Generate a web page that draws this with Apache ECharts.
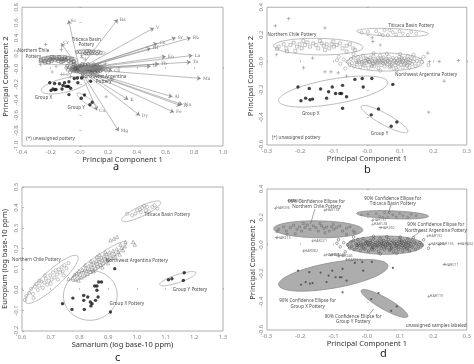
<!DOCTYPE html>
<html><head><meta charset="utf-8">
<script src="https://cdn.jsdelivr.net/npm/echarts@6/dist/echarts.min.js"></script>
<style>html,body{margin:0;padding:0;background:#fff}#c{width:474px;height:364px}</style>
</head><body><div id="c"></div>
<script>
// ---------- PCA scores (panels a, b, d) ----------
const titicacaPC = [[-0.016,0.217],[0.003,0.221],[0.028,0.226],[0.038,0.205],[0.053,0.233],[0.063,0.198],[0.078,0.217],[0.088,0.202],[0.098,0.226],[0.108,0.210],[0.123,0.198],[0.133,0.221],[0.148,0.210],[0.048,0.198],[0.068,0.233]];
const northernChilePC = [[-0.270,0.098],[-0.265,0.114],[-0.250,0.131],[-0.242,0.102],[-0.230,0.126],[-0.220,0.143],[-0.210,0.114],[-0.202,0.131],[-0.196,0.102],[-0.186,0.126],[-0.179,0.145],[-0.171,0.114],[-0.161,0.138],[-0.153,0.126],[-0.146,0.102],[-0.136,0.138],[-0.129,0.121],[-0.121,0.131],[-0.113,0.102],[-0.106,0.131],[-0.099,0.114],[-0.091,0.126],[-0.081,0.138],[-0.073,0.102],[-0.061,0.121],[-0.051,0.131],[-0.041,0.102],[-0.036,0.090],[-0.191,0.155],[-0.141,0.155],[-0.101,0.150],[-0.126,0.090],[-0.215,0.083],[-0.240,0.079],[-0.061,0.079]];
const nwArgentinaPC = [[-0.058,0.005],[-0.052,-0.020],[-0.048,0.025],[-0.045,-0.005],[-0.040,0.035],[-0.038,-0.030],[-0.033,0.012],[-0.030,-0.015],[-0.027,0.040],[-0.024,0.000],[-0.020,-0.035],[-0.018,0.022],[-0.015,-0.010],[-0.012,0.048],[-0.010,0.008],[-0.006,-0.025],[-0.003,0.030],[0.000,-0.002],[0.003,0.018],[0.005,-0.040],[0.008,0.005],[0.010,0.035],[0.013,-0.018],[0.015,0.012],[0.018,-0.005],[0.020,0.045],[0.022,-0.030],[0.025,0.020],[0.028,0.000],[0.030,-0.012],[0.033,0.030],[0.035,-0.042],[0.038,0.008],[0.040,0.050],[0.043,-0.020],[0.045,0.015],[0.048,-0.005],[0.050,0.035],[0.053,-0.030],[0.055,0.002],[0.058,0.025],[0.060,-0.015],[0.063,0.010],[0.065,0.042],[0.068,-0.035],[0.070,0.000],[0.073,0.020],[0.075,-0.010],[0.078,0.032],[0.080,-0.045],[0.083,0.008],[0.085,-0.022],[0.088,0.028],[0.090,-0.002],[0.093,0.015],[0.095,-0.030],[0.098,0.040],[0.100,0.005],[0.103,-0.015],[0.105,0.022],[0.108,-0.038],[0.110,0.010],[0.113,0.030],[0.115,-0.008],[0.118,0.018],[0.120,-0.025],[0.123,0.045],[0.125,0.000],[0.128,-0.040],[0.130,0.015],[0.133,0.030],[0.136,-0.012],[0.140,0.005],[0.143,0.025],[0.146,-0.028],[0.150,0.010],[0.155,-0.010],[0.160,0.020],[0.165,0.002],[-0.070,0.020],[-0.080,-0.010],[-0.090,0.015],[-0.085,0.040],[-0.065,-0.045],[0.020,0.065],[0.060,0.062],[0.100,0.060],[0.140,0.055],[0.040,-0.060],[0.090,-0.055],[-0.040,0.060],[0.170,0.040],[0.185,-0.020],[-0.025,0.010],[-0.015,0.002],[-0.005,0.012],[0.005,0.002],[0.012,0.022],[0.018,-0.012],[0.024,0.008],[0.032,-0.004],[0.036,0.020],[0.042,0.000],[0.050,0.010],[0.056,-0.008],[0.062,0.018],[0.068,0.005],[0.074,-0.020],[0.082,0.015],[0.087,0.000],[0.094,-0.010],[0.099,0.020],[0.106,0.000],[0.112,-0.015],[0.117,0.008],[0.124,0.020],[0.129,-0.005],[-0.030,0.000],[-0.010,-0.020],[0.000,0.025],[0.015,-0.028],[0.045,0.028],[0.070,-0.028],[0.104,0.032],[0.122,-0.020]];
const groupXPC = [[-0.207,-0.179],[-0.173,-0.190],[-0.139,-0.193],[-0.104,-0.179],[-0.073,-0.167],[-0.198,-0.279],[-0.184,-0.260],[-0.171,-0.271],[-0.163,-0.267],[-0.121,-0.260],[-0.115,-0.214],[-0.094,-0.226],[-0.081,-0.226],[-0.076,-0.226],[-0.061,-0.250],[-0.011,-0.179],[-0.073,-0.333],[-0.036,-0.124],[-0.014,-0.117],[0.015,-0.117],[0.078,-0.160]];
const groupYPC = [[0.013,-0.381],[0.035,-0.338],[0.073,-0.464],[0.090,-0.433]];
const unassignedPC = [[-0.235,0.317],[-0.275,0.264],[-0.126,0.250],[-0.272,0.055],[-0.190,-0.040],[-0.163,0.031],[-0.126,-0.069],[-0.108,-0.069],[0.018,0.150],[0.016,0.178],[0.040,0.126],[0.186,-0.362],[0.232,-0.136],[0.188,0.007],[0.217,0.007],[0.275,0.012],[0.183,0.067],[-0.061,-0.100],[-0.086,-0.076]];
const unassignedIds = ["HAR313","HAR096","HAR178","HAR115","HAR082","HAR221","HAR317","HAR240","HAR128","HAR131","HAR260","HAR119","HAR071","HAR302","HAR156","HAR034","HAR192","HAR311","HAR246"];

// 90% confidence ellipses in PC space: [centerX, centerY, axis1X, axis1Y, axis2X, axis2Y]
const ellipseNames = ["Northern Chile","Titicaca Basin","Northwest Argentina","Group X","Group Y"];
const ellipsesPC = [[-0.146,0.114,0.134,-0.005,0,0.060],[0.077,0.217,0.108,-0.010,0,0.028],[0.055,0.002,0.115,0,0,0.065],[-0.101,-0.212,0.164,0.069,0.007,-0.089],[0.053,-0.412,0.0697,-0.093,-0.0083,-0.0355]];

// element loadings (biplot arrows, panel a)
const loadingNames = ["Sc","Cr","Ba","V","Sr","Rb","Cs","Hf","Eu","La","Ta","Th","U","Mn","Al","Na","Ti","Fe","K","Dy","Mg","Ca","Co"];
const loadingXY = [[-0.076,0.630],[-0.127,0.332],[0.267,0.643],[0.519,0.532],[0.671,0.404],[0.776,0.404],[0.543,0.332],[0.496,0.268],[0.601,0.162],[0.788,0.174],[0.776,0.089],[0.554,0.064],[0.496,0.034],[0.846,-0.123],[0.648,-0.362],[0.718,-0.464],[0.706,-0.477],[0.659,-0.562],[0.340,-0.400],[0.421,-0.604],[0.274,-0.809],[0.123,-0.540],[0.228,-0.021]];

// ---------- Sm vs Eu (panel c) ----------
const titicacaSmEu = [[0.966,0.370],[0.984,0.362],[0.995,0.370],[1.001,0.387],[1.011,0.391],[1.019,0.398],[1.025,0.408],[1.036,0.403],[1.042,0.382],[1.054,0.403],[1.062,0.411],[1.014,0.378],[1.031,0.387],[1.071,0.395]];
const northernChileSmEu = [[0.615,-0.030],[0.625,-0.015],[0.632,0.005],[0.638,-0.020],[0.645,0.015],[0.650,0.030],[0.655,0.000],[0.660,0.020],[0.667,0.040],[0.672,0.010],[0.678,0.035],[0.683,0.055],[0.688,0.025],[0.693,0.045],[0.698,0.070],[0.703,0.050],[0.708,0.085],[0.713,0.060],[0.718,0.095],[0.722,0.075],[0.728,0.100],[0.733,0.085],[0.738,0.110],[0.742,0.090],[0.748,0.120],[0.755,0.105],[0.762,0.130],[0.680,0.070],[0.700,0.030],[0.660,0.045],[0.640,-0.040],[0.725,0.050],[0.610,-0.050],[0.745,0.070]];
const nwArgentinaSmEu = [[0.776,0.058],[0.782,0.072],[0.786,0.050],[0.790,0.080],[0.795,0.065],[0.799,0.092],[0.803,0.075],[0.807,0.060],[0.810,0.098],[0.814,0.085],[0.818,0.070],[0.821,0.105],[0.825,0.092],[0.828,0.078],[0.832,0.115],[0.835,0.100],[0.838,0.088],[0.841,0.125],[0.844,0.110],[0.847,0.095],[0.850,0.135],[0.853,0.120],[0.856,0.105],[0.859,0.142],[0.862,0.128],[0.865,0.115],[0.868,0.150],[0.871,0.137],[0.874,0.122],[0.877,0.158],[0.880,0.145],[0.883,0.130],[0.886,0.166],[0.889,0.152],[0.892,0.140],[0.895,0.175],[0.898,0.160],[0.901,0.148],[0.905,0.182],[0.909,0.168],[0.913,0.155],[0.917,0.190],[0.921,0.176],[0.925,0.163],[0.930,0.198],[0.935,0.185],[0.940,0.172],[0.946,0.205],[0.952,0.192],[0.958,0.212],[0.840,0.140],[0.860,0.160],[0.880,0.110],[0.900,0.130],[0.820,0.120],[0.850,0.090],[0.870,0.170],[0.890,0.185],[0.908,0.241],[0.920,0.249],[0.931,0.257],[0.943,0.220],[0.960,0.233],[0.987,0.233],[0.993,0.220],[0.762,0.054],[0.797,0.046]];
const groupXSmEu = [[0.741,-0.067],[0.774,-0.095],[0.777,-0.040],[0.815,-0.027],[0.815,-0.051],[0.817,-0.095],[0.829,-0.035],[0.838,-0.059],[0.840,-0.078],[0.844,-0.067],[0.853,0.019],[0.861,0.019],[0.861,-0.002],[0.856,-0.051],[0.865,-0.035],[0.867,0.038],[0.877,0.038],[0.908,-0.108],[0.923,0.103]];
const groupYSmEu = [[1.110,0.049],[1.122,0.054],[1.165,0.083],[1.162,0.046]];
const ellipsesSmEu = [[0.704,0.051,0.0898,0.1134,0.0196,-0.030],[1.015,0.382,0.0677,0.0454,0.0076,-0.0219],[0.868,0.139,0.0957,0.094,0.0114,-0.0225],[0.838,-0.027,0.093,0.015,-0.010,0.120],[1.1425,0.0544,0.063,0.029,0.0044,-0.0185]];

// ---------- annotations [x, y, text] ----------
const notesA = [[0.048,0.349,"Titicaca Basin\nPottery"],[-0.321,0.196,"Northern Chile\nPottery"],[0.169,-0.136,"Northwest Argentina\nPottery"],[-0.251,-0.370,"Group X"],[-0.022,-0.498,"Group Y"]];
const notesB = [[0.133,0.264,"Titicaca Basin Pottery"],[-0.225,0.198,"Northern Chile Pottery"],[0.178,-0.093,"Northwest Argentina Pottery"],[-0.169,-0.374,"Group X"],[0.038,-0.517,"Group Y"]];
const notesC = [[1.105,0.366,"Titicaca Basin Pottery"],[0.650,0.147,"Northern Chile Pottery"],[1.000,0.140,"Northwest Argentina Pottery"],[0.965,-0.067,"Group X Pottery"],[1.185,0.003,"Group Y Pottery"]];
const notesD = [[-0.151,0.291,"90% Confidence Ellipse for\nNorthern Chile Pottery"],[0.078,0.315,"90% Confidence Ellipse for\nTiticaca Basin Pottery"],[0.207,0.126,"90% Confidence Ellipse for\nNorthwest Argentina Pottery"],[-0.178,-0.413,"90% Confidence Ellipse for\nGroup X Pottery"],[-0.041,-0.524,"90% Confidence Ellipse for\nGroup Y Pottery"],[0.208,-0.572,"unassigned samples labeled"]];
const leadersD = [[[-0.156,0.258],[-0.169,0.154]],[[0.073,0.290],[0.063,0.222]],[[0.163,0.105],[0.138,0.060]],[[0.005,-0.498],[0.020,-0.452]]];
const legendNote = "(+) unassigned pottery";
const panelLetters = ["a","b","c","d"];

const FONT = "Noto Sans";
const PLUS = 'path://M4,0H6V4H10V6H6V10H4V6H0V4H4Z';
const fmtPC = v => (Math.abs(v) < 1e-9 ? "-0.0" : v.toFixed(1));
const fmt1 = v => (Math.abs(v) < 1e-9 ? "0.0" : v.toFixed(1));

const grids = [
  {left:22, top:5, width:201, height:141},
  {left:267, top:5, width:202, height:140},
  {left:21, top:187, width:202, height:144},
  {left:267, top:189, width:202, height:141}
].map(g => Object.assign(g, {show:true, borderColor:'#9a9a9a', borderWidth:0.8, backgroundColor:'#fff'}));

function xAx(gi, min, max, interval, name, fmt, gap) {
  return {type:'value', gridIndex:gi, min, max, interval, name, nameLocation:'middle', nameGap:gap,
    nameTextStyle:{fontSize:7.5, color:'#333', fontFamily:FONT},
    axisLine:{show:false}, axisTick:{show:true, inside:true, length:2, lineStyle:{color:'#999', width:0.6}},
    axisLabel:{fontSize:6, color:'#888', margin:3, formatter:fmt, fontFamily:FONT}, splitLine:{show:false}};
}
function yAx(gi, min, max, interval, name, fmt, gap) {
  return {type:'value', gridIndex:gi, min, max, interval, name, nameLocation:'middle', nameGap:gap,
    nameTextStyle:{fontSize:7.5, color:'#333', fontFamily:FONT},
    axisLine:{show:false}, axisTick:{show:true, inside:true, length:2, lineStyle:{color:'#999', width:0.6}},
    axisLabel:{fontSize:6, color:'#888', margin:3, rotate:90, formatter:fmt, fontFamily:FONT}, splitLine:{show:false}};
}

function ellipseSeries(gi, list, fill, stroke, z) {
  return {type:'custom', xAxisIndex:gi, yAxisIndex:gi, silent:true, z:z, clip:true,
    data:list, encode:{x:0, y:1},
    renderItem:(params, api) => {
      const cx=api.value(0), cy=api.value(1), ax=api.value(2), ay=api.value(3), bx=api.value(4), by=api.value(5);
      const pts=[];
      for (let i=0;i<90;i++){ const t=i/90*2*Math.PI;
        pts.push(api.coord([cx+Math.cos(t)*ax+Math.sin(t)*bx, cy+Math.cos(t)*ay+Math.sin(t)*by])); }
      return {type:'polygon', shape:{points:pts}, style:{fill:fill, stroke:stroke, lineWidth:0.8}};
    }};
}
function pts(gi, data, symbol, size, color, filled, z) {
  return {type:'scatter', xAxisIndex:gi, yAxisIndex:gi, data, symbol, symbolSize:size, silent:true, z:z||3,
    itemStyle: filled ? {color:color} : {color:'rgba(255,255,255,0)', borderColor:color, borderWidth:0.6}};
}
function notes(gi, list, opts) {
  return {type:'scatter', xAxisIndex:gi, yAxisIndex:gi, symbolSize:0, silent:true, z:10,
    data:list.map(n=>({value:[n[0],n[1]], name:n[2]})),
    label:Object.assign({show:true, formatter:p=>p.name, position:'inside', fontSize:4.6, color:'#222', fontFamily:FONT, lineHeight:5.5, align:'center'}, opts||{})};
}
function pcLayers(gi, mode) {
  if (mode === 'd') {
    return [
      pts(gi, nwArgentinaPC, 'circle', 2.6, '#444', false),
      pts(gi, northernChilePC, 'rect', 2, '#666', false),
      pts(gi, titicacaPC, 'circle', 2, '#666', false),
      pts(gi, groupXPC, 'circle', 2.2, '#444', true, 4),
      pts(gi, groupYPC, 'circle', 2.2, '#444', true, 4),
      pts(gi, unassignedPC, PLUS, 3, '#666', true)
    ];
  }
  const c = mode === 'a' ? '#555' : '#8a8a8a';
  return [
    pts(gi, nwArgentinaPC, 'circle', 3.2, c, false),
    pts(gi, northernChilePC, 'rect', 3, c, false),
    pts(gi, titicacaPC, 'circle', 3, c, false),
    pts(gi, groupXPC, 'circle', 3.4, '#111', true, 4),
    pts(gi, groupYPC, 'circle', 3.4, '#111', true, 4),
    pts(gi, unassignedPC, PLUS, 3.5, '#888', true)
  ];
}

const series = [];
// panel a
series.push(ellipseSeries(0, ellipsesPC, 'rgba(0,0,0,0)', '#aaa', 2));
series.push({type:'lines', coordinateSystem:'cartesian2d', xAxisIndex:0, yAxisIndex:0, silent:true, z:5,
  data: loadingXY.map(p=>({coords:[[0,0],[p[0],p[1]]]})), symbol:['none','arrow'], symbolSize:4,
  lineStyle:{color:'#8c8c8c', width:0.6, opacity:1}, itemStyle:{color:'#333'}});
series.push(...pcLayers(0, 'a'));
series.push({type:'scatter', xAxisIndex:0, yAxisIndex:0, symbolSize:0, silent:true, z:9,
  data: loadingXY.map((p,i)=>({value:p, name:loadingNames[i]})),
  label:{show:true, position:'right', distance:2, formatter:p=>p.name, fontSize:4.5, color:'#555', fontFamily:'DejaVu Serif'}});
series.push(notes(0, notesA));
series.push(notes(0, [[-0.37,-0.905,legendNote]], {align:'left'}));
// panel b
series.push(ellipseSeries(1, ellipsesPC, 'rgba(0,0,0,0)', '#aaa', 2));
series.push(...pcLayers(1, 'b'));
series.push(notes(1, notesB));
series.push(notes(1, [[-0.285,-0.548,legendNote]], {align:'left'}));
// panel c
series.push(ellipseSeries(2, ellipsesSmEu, 'rgba(0,0,0,0)', '#aaa', 2));
series.push(pts(2, nwArgentinaSmEu, 'triangle', 3.4, '#7a7a7a', false));
series.push(pts(2, northernChileSmEu, 'circle', 3.2, '#8a8a8a', false));
series.push(pts(2, titicacaSmEu, 'circle', 3.2, '#8a8a8a', false));
series.push(pts(2, groupXSmEu, 'circle', 3.4, '#111', true, 4));
series.push(pts(2, groupYSmEu, 'circle', 3.4, '#111', true, 4));
series.push(notes(2, notesC));
// panel d
series.push(ellipseSeries(3, ellipsesPC, '#adadad', '#8a8a8a', 2));
series.push(...pcLayers(3, 'd'));
series.push({type:'scatter', xAxisIndex:3, yAxisIndex:3, symbolSize:0, silent:true, z:8,
  data: unassignedPC.map((p,i)=>({value:p, name:unassignedIds[i]})),
  label:{show:true, position:'right', distance:1, formatter:p=>p.name, fontSize:3.6, color:'#555', fontFamily:FONT}});
leadersD.forEach(l => series.push({type:'line', xAxisIndex:3, yAxisIndex:3, data:l, symbol:'none', silent:true, z:7,
  lineStyle:{color:'#666', width:0.6}}));
series.push(notes(3, notesD));

const option = {
  animation:false,
  backgroundColor:'#fff',
  textStyle:{fontFamily:FONT},
  grid: grids,
  xAxis: [
    xAx(0, -0.4, 1.0, 0.2, 'Principal Component 1', fmtPC, 7),
    xAx(1, -0.3, 0.3, 0.1, 'Principal Component 1', fmtPC, 9),
    xAx(2, 0.6, 1.3, 0.1, 'Samarium (log base-10 ppm)', fmt1, 9),
    xAx(3, -0.3, 0.3, 0.1, 'Principal Component 1', fmtPC, 8)
  ],
  yAxis: [
    yAx(0, -1.0, 0.8, 0.2, 'Principal Component 2', fmtPC, 12),
    yAx(1, -0.6, 0.4, 0.2, 'Principal Component 2', fmtPC, 12),
    yAx(2, -0.2, 0.5, 0.1, 'Europium (log base-10 ppm)', fmt1, 13),
    yAx(3, -0.6, 0.4, 0.2, 'Principal Component 2', fmtPC, 10)
  ],
  graphic: [
    {type:'text', left:113, top:161, style:{text:panelLetters[0], fontSize:11, fill:'#222', fontFamily:FONT}},
    {type:'text', left:364, top:164, style:{text:panelLetters[1], fontSize:11, fill:'#222', fontFamily:FONT}},
    {type:'text', left:115, top:352, style:{text:panelLetters[2], fontSize:11, fill:'#222', fontFamily:FONT}},
    {type:'text', left:380, top:348, style:{text:panelLetters[3], fontSize:11, fill:'#222', fontFamily:FONT}}
  ],
  series
};
const chart = echarts.init(document.getElementById('c'), null, {renderer:'canvas'});
chart.setOption(option);
</script></body></html>
